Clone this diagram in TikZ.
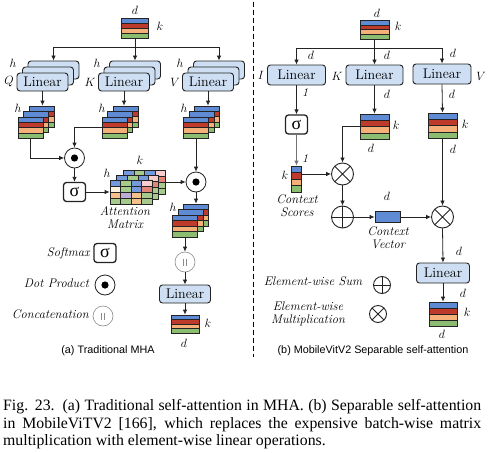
\documentclass[tikz,border=0pt]{standalone}
\usepackage{fontspec}
\newfontfamily\capfont{Liberation Sans}
\newfontfamily\figfont{Liberation Serif}
\usetikzlibrary{arrows.meta,calc}
\definecolor{cB}{RGB}{95,138,212}
\definecolor{cR}{RGB}{190,58,42}
\definecolor{cO}{RGB}{244,176,120}
\definecolor{cG}{RGB}{140,188,112}
\definecolor{pB}{RGB}{115,152,220}
\definecolor{pG}{RGB}{165,202,140}
\definecolor{pO}{RGB}{246,192,140}
\definecolor{pP}{RGB}{246,204,204}
\definecolor{pW}{RGB}{250,242,222}
\definecolor{pV}{RGB}{188,172,216}
\definecolor{pR}{RGB}{226,132,120}
\definecolor{linfill}{RGB}{206,223,243}
\definecolor{edge}{RGB}{35,35,35}
\tikzset{
  tbox/.style={draw=edge, line width=0.7pt, inner sep=0},
  sep/.style={draw=edge, line width=0.35pt},
  linbox/.style={draw=edge, line width=0.9pt, fill=linfill, rounded corners=3pt,
    minimum width=51, minimum height=18, inner sep=0, font=\fontsize{14}{15}\selectfont},
  mlbl/.style={inner sep=0, font=\fontsize{12}{14}\selectfont},
  ilbl/.style={inner sep=0, font=\fontsize{12.5}{15}\selectfont\itshape, align=center},
  arr/.style={-{Latex[length=5pt,width=4.5pt]}, line width=0.8pt, draw=edge},
  ln/.style={line width=0.8pt, draw=edge},
  grayarr/.style={-{Latex[length=5pt,width=4.5pt]}, line width=1.3pt, draw=black!55},
  sigbox/.style={draw=edge, line width=1.3pt, rounded corners=3pt, minimum width=22,
    minimum height=19, inner sep=0, font=\figfont\fontsize{18}{18}\selectfont},
  dotc/.style={circle, draw=edge, line width=0.8pt, minimum size=20, inner sep=0,
    path picture={\fill[black] (path picture bounding box.center) circle (3.6pt);}},
  catc/.style={circle, draw=black!45, line width=0.6pt, minimum size=20, inner sep=0},
  opc/.style={circle, draw=edge, line width=0.9pt, minimum size=#1, inner sep=0,
    path picture={\draw[line width=0.9pt] (path picture bounding box.north) -- (path picture bounding box.south)
      (path picture bounding box.west) -- (path picture bounding box.east);}},
  otc/.style={circle, draw=edge, line width=0.9pt, minimum size=#1, inner sep=0,
    path picture={\draw[line width=0.9pt] (path picture bounding box.north west) -- (path picture bounding box.south east)
      (path picture bounding box.north east) -- (path picture bounding box.south west);}},
  sublbl/.style={inner sep=0, font=\capfont\fontsize{10.8}{13}\selectfont}
}
\newcommand\tens[5]{%
  \foreach \c [count=\i from 0] in {cB,cR,cO,cG}
    \fill[\c] ({#2-#4/2},{#3-#5/2+\i*#5/4}) rectangle ({#2+#4/2},{#3-#5/2+(\i+1)*#5/4});
  \foreach \i in {1,2,3}
    \draw[sep] ({#2-#4/2},{#3-#5/2+\i*#5/4}) -- ({#2+#4/2},{#3-#5/2+\i*#5/4});
  \node[tbox, minimum width=#4, minimum height=#5] (#1) at (#2,#3) {};
}
\newcommand\tstack[5]{%
  \tens{#13}{#2+11}{#3-11}{#4}{#5}
  \tens{#12}{#2+5.5}{#3-5.5}{#4}{#5}
  \tens{#11}{#2}{#3}{#4}{#5}
}
\newcommand\lstack[3]{%
  \node[linbox] (#13) at ({#2+11},{#3-12}) {};
  \node[linbox] (#12) at ({#2+5.5},{#3-6}) {};
  \node[linbox] (#11) at (#2,#3) {Linear};
}
\newcommand\attlayer[3]{%
  \foreach \r/\row in {0/{pB,pG,pB,pP},1/{pW,pG,pB,pR},2/{pO,pV,pO,pG},3/{pG,pG,pO,pG}}{
    \foreach \c [count=\k from 0] in \row
      \fill[\c] ({#2-21+10.5*\k},{#3-12+6*\r}) rectangle ({#2-10.5+10.5*\k},{#3-6+6*\r});
  }
  \foreach \k in {1,2,3} \draw[sep] ({#2-21+10.5*\k},{#3-12}) -- ({#2-21+10.5*\k},{#3+12});
  \foreach \r in {1,2,3} \draw[sep] ({#2-21},{#3-12+6*\r}) -- ({#2+21},{#3-12+6*\r});
  \node[tbox, minimum width=42, minimum height=24] (#1) at (#2,#3) {};
}
\begin{document}
\begin{tikzpicture}[x=1pt,y=-1pt]
\fill[white] (0,0) rectangle (494,452);
\useasboundingbox (0,0) rectangle (494,452);

% ================= LEFT PANEL =================
\tens{inL}{135}{28}{27}{20}
\node[mlbl] (lLd) at (135,10) {$d$};
\node[mlbl] (lLk) at (160,26) {$k$};

\lstack{Ql}{42.5}{82}
\lstack{Kl}{124}{82}
\lstack{Vl}{208}{82}
\node[mlbl] (lh1) at (13,63) {$h$};
\node[mlbl] (lQ) at (9,82) {$Q$};
\node[mlbl] (lh2) at (97,63) {$h$};
\node[mlbl] (lK) at (90,82) {$K$};
\node[mlbl] (lh3) at (180,63) {$h$};
\node[mlbl] (lV) at (175,82) {$V$};

\coordinate (jL) at (135,47);
\draw[ln] (inL.south) -- (jL);
\draw[ln] (Ql3.north |- jL) -- (Vl3.north |- jL);
\draw[arr] (Ql3.north |- jL) -- (Ql3.north);
\draw[arr] (Kl3.north |- jL) -- (Kl3.north);
\draw[arr] (Vl3.north |- jL) -- (Vl3.north);

\tstack{Qt}{30.5}{127.5}{25}{21}
\tstack{Kt}{114.5}{127.5}{25}{21}
\tstack{Vt}{196}{127.5}{25}{21}
\node[mlbl] (lh4) at (18,108) {$h$};
\node[mlbl] (lh5) at (102,108) {$h$};
\node[mlbl] (lh6) at (184,108) {$h$};
\draw[arr] (Ql1.south) -- (Ql1.south |- Qt3.north);
\draw[arr] (Kl1.south) -- (Kl1.south |- Kt3.north);
\draw[arr] (Vl1.south) -- (Vl1.south |- Vt3.north);

\node[dotc] (dotA) at (74.5,158) {};
\draw[arr] (Qt1.south) |- (dotA.west);
\draw[arr] (Kt1.west) -| (dotA.north);
\node[sigbox] (sigA) at (74.5,192) {σ};
\draw[arr] (dotA.south) -- (sigA.north);

\attlayer{att3}{144.4}{182}
\attlayer{att2}{137.7}{187}
\attlayer{att1}{131}{192}
\node[mlbl] (lak) at (140,160) {$k$};
\node[mlbl] (lah) at (107,173) {$h$};
\node[ilbl] (lat) at (125,218) {Attention\\[-2pt]Matrix};
\draw[arr] (sigA.east) -- (att1.west);

\node[dotc] (dotB) at (196,182) {};
\draw[arr] (att3.east) -- (dotB.west);
\draw[arr] (Vt1.south) -- (dotB.north);

\tstack{Ot}{185}{226}{25}{22}
\node[mlbl] (lh7) at (173,207) {$h$};
\draw[arr] (dotB.south) -- (dotB.south |- Ot3.north);

\node[catc] (cc) at (185,262) {\color{black!45}\rule{0.7pt}{7pt}\hspace{2.2pt}\rule{0.7pt}{7pt}};
\draw[arr] (Ot1.south) -- (cc.north);
\node[linbox] (LinO) at (185,294) {Linear};
\draw[arr] (cc.south) -- (LinO.north);
\tens{outL}{185}{324}{28}{18}
\draw[arr] (LinO.south) -- (outL.north);
\node[mlbl] (lok) at (208,323) {$k$};
\node[mlbl] (lod) at (184,343) {$d$};

% legend left
\node[ilbl, anchor=east] (tsm) at (90,253) {Softmax};
\node[sigbox] (sigL) at (105,253) {σ};
\node[ilbl, anchor=east] (tdp) at (89,283) {Dot Product};
\node[dotc] (dotL) at (105,285) {};
\node[ilbl, anchor=east] (tcc) at (89,314) {Concatenation};
\node[catc] (ccL) at (103,316) {\color{black!45}\rule{0.7pt}{7pt}\hspace{2.2pt}\rule{0.7pt}{7pt}};

\node[sublbl] (capa) at (108,351) {(a) Traditional MHA};

% divider
\coordinate (dv1) at (253,2);
\coordinate (dv2) at (253,357);
\draw[line width=1pt, dash pattern=on 5pt off 3pt] (dv1) -- (dv2);

% ================= RIGHT PANEL =================
\tens{inR}{374.5}{29.5}{29}{19}
\node[mlbl] (rd0) at (377,13) {$d$};
\node[mlbl] (rk0) at (398,26) {$k$};
\node[linbox, minimum width=58, minimum height=20] (LinI) at (296.5,75) {Linear};
\node[linbox, minimum width=57, minimum height=20] (LinK) at (374.5,75) {Linear};
\node[linbox, minimum width=58, minimum height=20] (LinV) at (442,74) {Linear};
\node[mlbl] (rI) at (261,75) {$I$};
\node[mlbl] (rK) at (337,76) {$K$};
\node[mlbl] (rV) at (481,76) {$V$};
\coordinate (jR) at (374.5,48);
\draw[ln] (inR.south) -- (jR);
\draw[ln] (LinI.north |- jR) -- (LinV.north |- jR);
\draw[arr] (LinI.north |- jR) -- (LinI.north);
\draw[arr] (LinK.north |- jR) -- (LinK.north);
\draw[arr] (LinV.north |- jR) -- (LinV.north);
\node[mlbl] (rd1) at (311,55) {$d$};
\node[mlbl] (rd2) at (387,55) {$d$};
\node[mlbl] (rd3) at (453,53) {$d$};

\node[sigbox] (sigR) at (296.5,124.5) {σ};
\draw[arr] (LinI.south) -- (sigR.north);
\node[mlbl] (r1a) at (305,93) {\textit{1}};
\tens{cs}{296.5}{179}{10}{26}
\draw[grayarr] (sigR.south) -- (cs.north);
\node[mlbl] (r1b) at (305,159) {\textit{1}};
\node[mlbl] (rkc) at (285,175) {$k$};
\node[ilbl] (tcs) at (297,206) {Context\\[-2pt]Scores};

\tens{Kt}{374.5}{126.5}{29}{25}
\draw[arr] (LinK.south) -- (Kt.north);
\node[mlbl] (rd4) at (387,94) {$d$};
\node[mlbl] (rk4) at (396,125) {$k$};
\node[mlbl] (rd5) at (371,148) {$d$};

\node[otc=22] (otA) at (342.5,174) {};
\draw[arr] (cs.east |- otA.west) -- (otA.west);
\draw[arr] (Kt.west) -| (otA.north);
\node[opc=22] (opA) at (342.5,217) {};
\draw[arr] (otA.south) -- (opA.north);

\node[draw=edge, line width=0.8pt, fill=cB, minimum width=25, minimum height=11, inner sep=0] (cv) at (387.5,217) {};
\draw[arr] (opA.east) -- (cv.west);
\node[mlbl] (rd6) at (387,196) {$d$};
\node[ilbl] (tcv) at (388,238) {Context\\[-2pt]Vector};

\tens{Vt}{442.5}{125.5}{29}{25}
\draw[arr] (LinV.south) -- (Vt.north);
\node[mlbl] (rd7) at (452,94) {$d$};
\node[mlbl] (rk7) at (465,124) {$k$};
\node[mlbl] (rd8) at (453,149) {$d$};

\node[otc=22] (otB) at (442.5,217) {};
\draw[arr] (cv.east) -- (otB.west);
\draw[arr] (Vt.south) -- (otB.north);

\node[linbox, minimum width=53, minimum height=20] (LinO2) at (443,273) {Linear};
\draw[arr] (otB.south) -- (LinO2.north);
\node[mlbl] (rd9) at (459,251) {$d$};
\tens{outR}{443}{314}{28}{24}
\draw[arr] (LinO2.south) -- (outR.north);
\node[mlbl] (rd10) at (463,293) {$d$};
\node[mlbl] (rk10) at (467,312) {$k$};
\node[mlbl] (rd11) at (442,334) {$d$};

% legend right
\node[ilbl] (tes) at (313,281) {Element-wise Sum};
\node[opc=17] (opL) at (382,285) {};
\node[ilbl] (tem) at (308,314) {Element-wise\\[-2pt]Multiplication};
\node[otc=17] (otL) at (378,314) {};

\node[sublbl] (capb) at (373,351) {(b) MobileVitV2 Separable self-attention};

% ================= CAPTION =================
\node[anchor=north west, inner sep=0, text width=478pt, align=justify,
  font=\figfont\fontsize{15.8}{17.8}\selectfont] (cap) at (3,399)
  {Fig. 23.\hspace{0.5em}(a) Traditional self-attention in MHA. (b) Separable self-attention\linebreak
   in MobileViTV2 [166], which replaces the expensive batch-wise matrix\linebreak
   multiplication with element-wise linear operations.};
\end{tikzpicture}
\end{document}
